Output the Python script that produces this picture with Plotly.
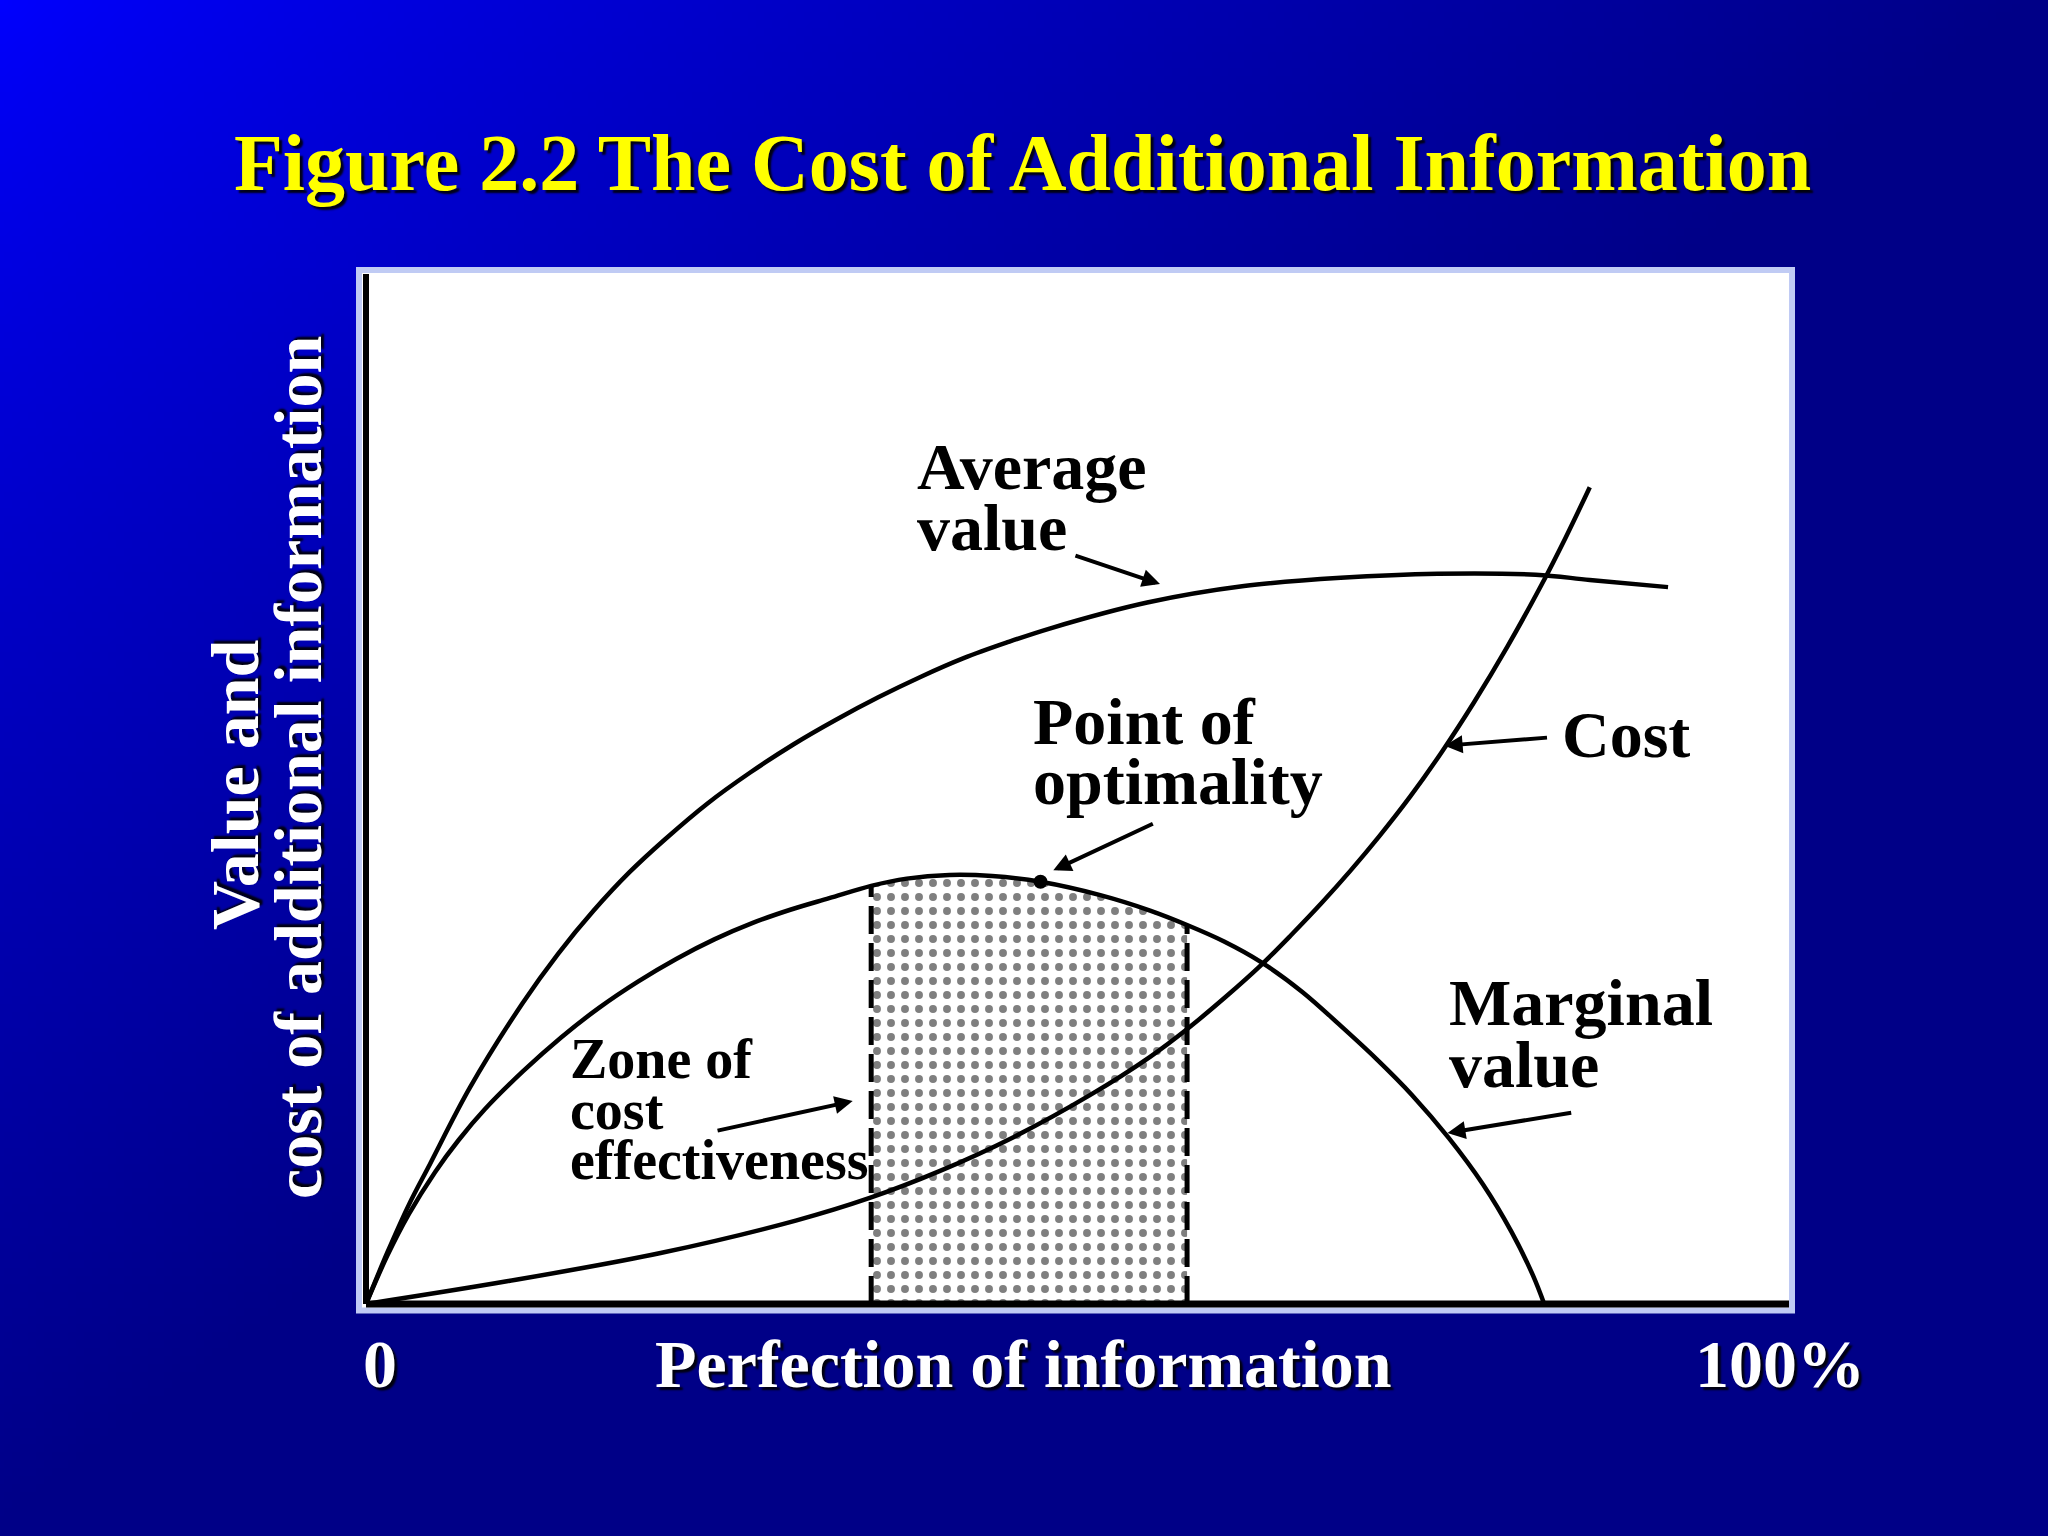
import base64
import struct
import zlib

import numpy as np
import plotly.graph_objects as go

FIG_W, FIG_H = 2048, 1536
# plot area in page pixels
PLOT_L, PLOT_R, PLOT_T, PLOT_B = 366, 1789, 274, 1304

SERIF = "Times New Roman, Liberation Serif, serif"
SHADOW = "3px 3px 2px rgba(0,0,0,0.9)"

# perfection of information (%) vs value / cost (arbitrary units, 0-100)
average_x = [0, 1.5, 3.0, 4.5, 7.3, 11.0, 13.5, 16.0, 18.5, 21.0, 24.0, 27.0,
             30.0, 33.0, 36.0, 39.0, 42.0, 45.0, 48.1, 54.9, 61.7, 68.5, 75.3,
             82.2, 86.0, 91.5]
average_y = [0, 5.0, 9.6, 13.6, 21.0, 29.2, 34.0, 38.2, 41.9, 45.1, 48.6, 51.6,
             54.3, 56.7, 58.9, 60.9, 62.7, 64.2, 65.6, 68.1, 69.7, 70.5, 70.9,
             70.8, 70.3, 69.6]

marginal_x = [0, 1.5, 3.0, 4.85, 6.5, 8.35, 11.04, 13.73, 16.42, 19.11, 21.8,
              24.48, 27.18, 29.87, 32.55, 35.5, 38.0, 41.0, 44.0, 47.4, 51.6,
              55.1, 57.7, 60.3, 62.9, 65.8, 68.5, 71.0, 73.5, 76.1, 78.5, 80.5,
              82.0, 82.8]
marginal_y = [0, 4.7, 8.7, 12.8, 15.9, 18.9, 22.6, 25.9, 28.8, 31.3, 33.5,
              35.4, 37.0, 38.3, 39.4, 40.6, 41.3, 41.65, 41.55, 41.0, 39.7,
              38.2, 36.8, 35.2, 33.2, 30.3, 27.0, 23.8, 20.3, 16.1, 11.6, 7.0,
              2.8, 0]

cost_x = [0, 9.9, 20.7, 30.2, 35.4, 40.3, 45.5, 50.9, 55.1, 57.8, 60.4, 62.9,
          65.0, 67.2, 69.2, 71.2, 73.4, 75.6, 77.9, 80.2, 82.6, 84.3, 86.0]
cost_y = [0, 2.2, 4.95, 8.1, 10.3, 12.9, 16.2, 20.3, 24.0, 26.8, 29.8, 32.9,
          35.8, 39.0, 42.1, 45.4, 49.3, 53.6, 58.5, 63.8, 69.8, 74.4, 79.3]

zone_start, zone_end = 35.5, 57.7
optimal_x, optimal_y = 47.4, 41.0

# (text, x, y, font size)
curve_labels = [
    ("Average", 38.6, 81.3, 66),
    ("value", 38.6, 75.4, 66),
    ("Point of", 46.7, 56.6, 66),
    ("optimality", 46.7, 50.7, 66),
    ("Cost", 83.9, 55.3, 66),
    ("Marginal", 76.0, 29.3, 66),
    ("value", 76.0, 23.3, 66),
    ("Zone of", 14.2, 23.8, 56),
    ("cost", 14.2, 18.8, 56),
    ("effectiveness", 14.2, 14.0, 56),
]
# (tail x, tail y, tip x, tip y)
pointer_arrows = [
    (49.75, 72.7, 55.8, 69.9),
    (55.4, 46.7, 48.3, 42.1),
    (83.1, 55.0, 75.8, 54.2),
    (84.8, 18.6, 76.0, 16.6),
    (24.6, 16.8, 34.2, 19.7),
]


def px_to_paper(px, py):
    return ((px - PLOT_L) / (PLOT_R - PLOT_L), (PLOT_B - py) / (PLOT_B - PLOT_T))


def gradient_png(w=256, h=192):
    yy, xx = np.mgrid[0:h, 0:w]
    t = np.clip(xx / (w - 1) + yy / (h - 1), 0, 1)
    blue = (255 - 120 * t ** 0.8).astype(np.uint8)
    img = np.zeros((h, w, 3), np.uint8)
    img[..., 2] = blue
    raw = b"".join(b"\x00" + img[r].tobytes() for r in range(h))

    def chunk(tag, data):
        return (struct.pack(">I", len(data)) + tag + data
                + struct.pack(">I", zlib.crc32(tag + data) & 0xFFFFFFFF))

    png = (b"\x89PNG\r\n\x1a\n"
           + chunk(b"IHDR", struct.pack(">IIBBBBB", w, h, 8, 2, 0, 0, 0))
           + chunk(b"IDAT", zlib.compress(raw, 9))
           + chunk(b"IEND", b""))
    return "data:image/png;base64," + base64.b64encode(png).decode()


fig = go.Figure()

# zone of cost effectiveness, bounded above by the marginal value curve
zone_x = [x for x in marginal_x if zone_start <= x <= zone_end]
zone_y = [y for x, y in zip(marginal_x, marginal_y) if zone_start <= x <= zone_end]
fig.add_trace(go.Scatter(
    x=zone_x + [zone_end, zone_start],
    y=zone_y + [0, 0],
    fill="toself",
    mode="lines",
    line=dict(width=0),
    fillcolor="white",
    fillpattern=dict(shape=".", fgcolor="black", bgcolor="white",
                     size=14, solidity=0.25),
    hoverinfo="skip",
))
for zx in (zone_start, zone_end):
    top = marginal_y[marginal_x.index(zx)]
    fig.add_trace(go.Scatter(
        x=[zx, zx], y=[0, top], mode="lines",
        line=dict(color="black", width=5, dash="28px,9px"),
        hoverinfo="skip",
    ))

for xs, ys, name in ((average_x, average_y, "Average value"),
                     (marginal_x, marginal_y, "Marginal value"),
                     (cost_x, cost_y, "Cost")):
    fig.add_trace(go.Scatter(
        x=xs, y=ys, mode="lines", name=name,
        line=dict(color="black", width=4.5, shape="spline", smoothing=1.0),
    ))

fig.add_trace(go.Scatter(
    x=[optimal_x], y=[optimal_y], mode="markers",
    marker=dict(color="black", size=14),
    name="Point of optimality",
))

annotations = []
for text, x, y, size in curve_labels:
    annotations.append(dict(
        x=x, y=y, xref="x", yref="y", text=text, showarrow=False,
        xanchor="left", yanchor="middle",
        font=dict(family=SERIF, size=size, color="black", weight=700),
    ))
for ax, ay, x, y in pointer_arrows:
    annotations.append(dict(
        x=x, y=y, ax=ax, ay=ay, xref="x", yref="y", axref="x", ayref="y",
        text="", showarrow=True, arrowhead=2, arrowsize=0.9, arrowwidth=4,
        arrowcolor="black",
    ))

# slide texts (page pixel positions)
slide_texts = [
    ("Figure 2.2 The Cost of Additional Information", 1022, 163, 80, "#ffff00", 0),
    ("0", 380, 1364, 68, "white", 0),
    ("Perfection of information", 1023, 1364, 68, "white", 0),
    ("100%", 1780, 1364, 68, "white", 0),
    ("Value and", 235, 785, 68, "white", -90),
    ("cost of additional information", 298, 768, 68, "white", -90),
]
for text, px, py, size, color, angle in slide_texts:
    xp, yp = px_to_paper(px, py)
    annotations.append(dict(
        x=xp, y=yp, xref="paper", yref="paper", text=text, showarrow=False,
        xanchor="center", yanchor="middle", textangle=angle,
        font=dict(family=SERIF, size=size, color=color, weight=700, shadow=SHADOW),
    ))

fx0, fy1 = px_to_paper(359, 270)
fx1, fy0 = px_to_paper(1792, 1310.5)
shapes = [
    dict(type="rect", xref="paper", yref="paper", x0=fx0, x1=fx1, y0=fy0, y1=fy1,
         fillcolor="white", line=dict(color="#c0cbf4", width=6), layer="below"),
    dict(type="line", xref="paper", yref="paper", x0=0, x1=0, y0=0, y1=1,
         line=dict(color="black", width=6), layer="above"),
    dict(type="line", xref="paper", yref="paper", x0=0, x1=1, y0=0, y1=0,
         line=dict(color="black", width=7), layer="above"),
]

img_x, img_y = px_to_paper(0, 0)
fig.update_layout(
    width=FIG_W,
    height=FIG_H,
    margin=dict(l=PLOT_L, r=FIG_W - PLOT_R, t=PLOT_T, b=FIG_H - PLOT_B, pad=0),
    paper_bgcolor="#000088",
    plot_bgcolor="white",
    showlegend=False,
    xaxis=dict(range=[0, 100], visible=False, fixedrange=True),
    yaxis=dict(range=[0, 100], visible=False, fixedrange=True),
    images=[dict(
        source=gradient_png(), xref="paper", yref="paper",
        x=img_x, y=img_y, sizex=FIG_W / (PLOT_R - PLOT_L),
        sizey=FIG_H / (PLOT_B - PLOT_T), xanchor="left", yanchor="top",
        sizing="stretch", layer="below",
    )],
    shapes=shapes,
    annotations=annotations,
)

fig.write_html(
    "out.html",
    config={"displayModeBar": False},
    post_script="document.body.style.margin='0';document.body.style.overflow='hidden';",
)
